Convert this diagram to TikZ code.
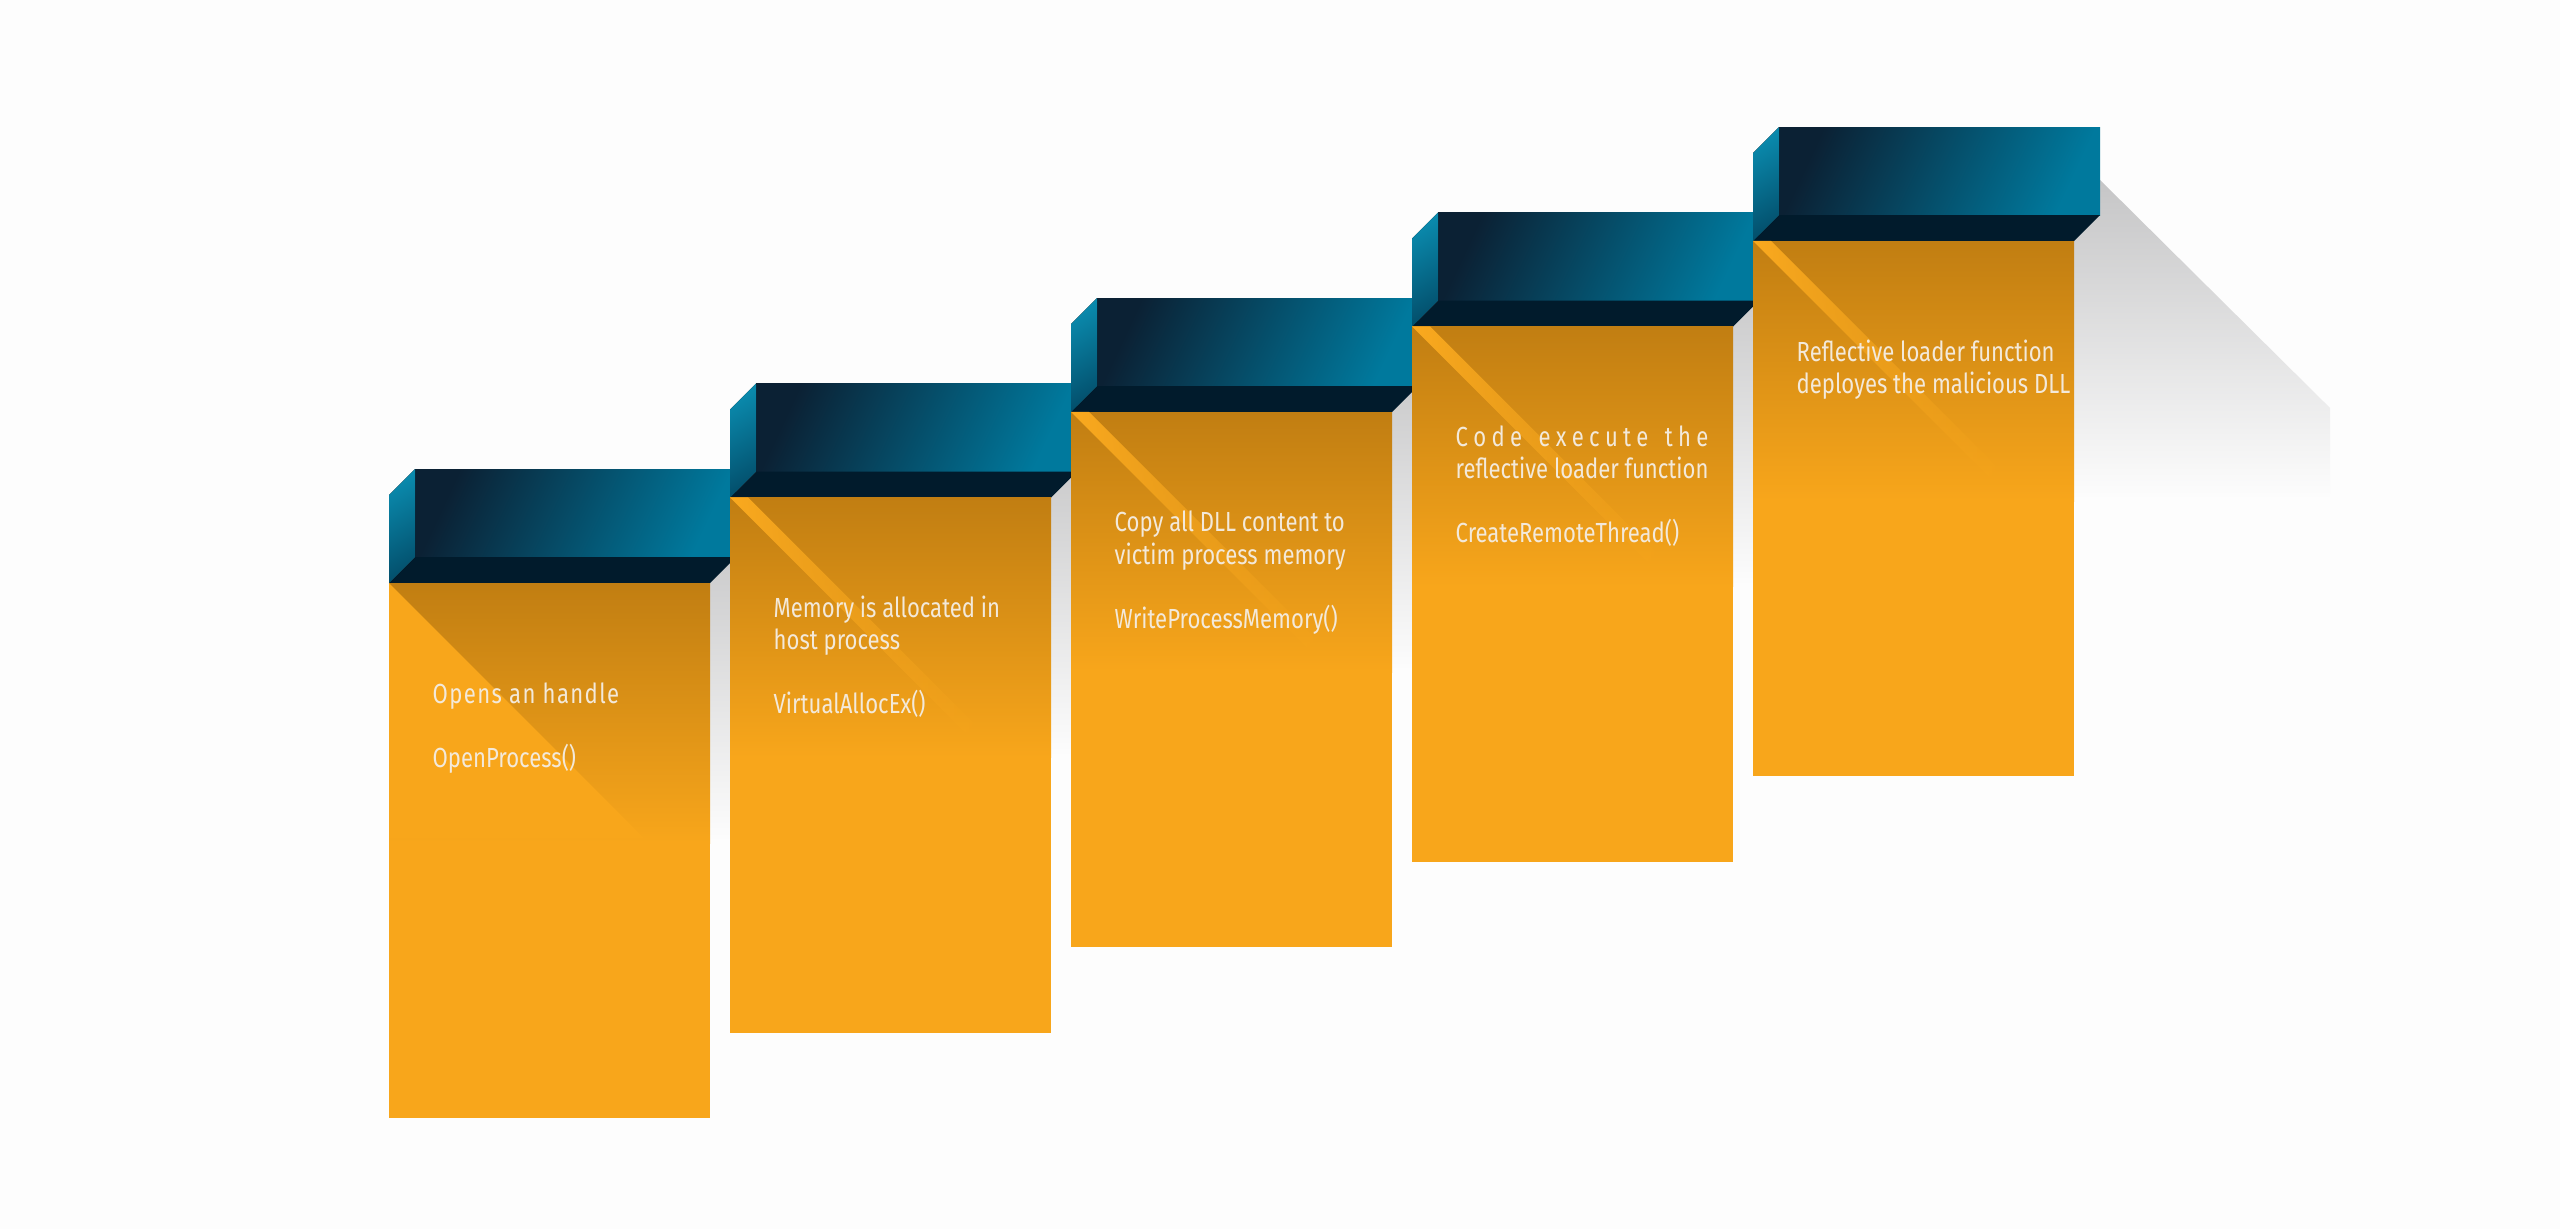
\documentclass[tikz,border=0pt]{standalone}
\usepackage{fontspec}
\setmainfont{Fira Sans}[FakeStretch=0.8]
\usepackage{tikz}
\usetikzlibrary{fadings}

\definecolor{flapnavy}{HTML}{0B2134}
\definecolor{flapteal}{HTML}{00799D}
\definecolor{bandnavy}{HTML}{011B2C}
\definecolor{bevellight}{HTML}{0A8AAD}
\definecolor{beveldark}{HTML}{03506D}
\definecolor{facedark}{HTML}{C17E12}
\definecolor{facebright}{HTML}{F8A61B}
\definecolor{stripeorange}{HTML}{FBAA1F}
\definecolor{castgray}{HTML}{C6C6C7}
\definecolor{notewhite}{HTML}{F3E9DA}
\definecolor{paper}{HTML}{FDFDFD}

\tikzfading[name=stripefade, left color=transparent!0, middle color=transparent!15, right color=transparent!100]

\newlength{\notewd}

\begin{document}
\begin{tikzpicture}[x=0.01cm, y=-0.01cm,
    flap/.style={shading=axis, top color=flapnavy, bottom color=flapteal, shading angle=65},
    bevel/.style={shading=axis, top color=bevellight, bottom color=beveldark, shading angle=30},
    facefade/.style={shading=axis, top color=facedark, bottom color=facebright},
    cast/.style={fill=castgray, path fading=south},
    notetext/.style={anchor=base west, inner sep=0pt, align=left, text=notewhite,
                     font=\fontsize{7.85pt}{9.1pt}\selectfont},
    stepbody/.pic={
        \fill[cast] (347,-61) -- (577,167) -- (577,256) -- (321,256) -- (321,0) -- (347,-26) -- cycle;
        \fill[flap] (26,-114) rectangle (347,-26);
        \fill[bandnavy] (0,0) -- (26,-26) -- (347,-26) -- (321,0) -- cycle;
        \fill[bevel] (0,0) -- (0,-88) -- (26,-114) -- (26,-26) -- cycle;
        \fill[facebright] (0,0) rectangle (321,535);
        \fill[facefade] (0,0) rectangle (321,260);
    },
    firstblock/.pic={
        \pic {stepbody};
        \fill[facebright] (0,0) -- (255,255) -- (0,255) -- cycle;
    },
    nextblock/.pic={
        \pic {stepbody};
        \fill[stripeorange, path fading=stripefade] (0,0) -- (18,0) -- (268,250) -- (250,250) -- cycle;
    }]

    \fill[paper] (0,0) rectangle (2560,1229);
    \useasboundingbox (0,0) rectangle (2560,1229);

    % the five steps, left to right
    \pic at (389,583)    {firstblock};
    \pic at (730,497.5)  {nextblock};
    \pic at (1071,412)   {nextblock};
    \pic at (1412,326.5) {nextblock};
    \pic at (1753,241)   {nextblock};

    % base of a note = baseline of its last line
    \node[notetext] (handle) at (432,767)    {{\addfontfeature{LetterSpace=5}Opens an handle}\\[0.32cm]OpenProcess()};
    \node[notetext] (alloc)  at (773,713.5)  {Memory is allocated in\\host process\\[0.32cm]VirtualAllocEx()};
    \node[notetext] (write)  at (1114,628)   {Copy all DLL content to\\victim process memory\\[0.32cm]WriteProcessMemory()};
    \node[notetext] (thread) at (1455,542.5) {\settowidth{\notewd}{reflective loader function}\makebox[\notewd][s]{C\hfill o\hfill d\hfill e\hfill\ \hfill e\hfill x\hfill e\hfill c\hfill u\hfill t\hfill e\hfill\ \hfill t\hfill h\hfill e}\\reflective loader function\\[0.32cm]CreateRemoteThread()};
    \node[notetext] (deploy) at (1796,393)   {Reflective loader function\\deployes the malicious DLL};

\end{tikzpicture}
\end{document}
